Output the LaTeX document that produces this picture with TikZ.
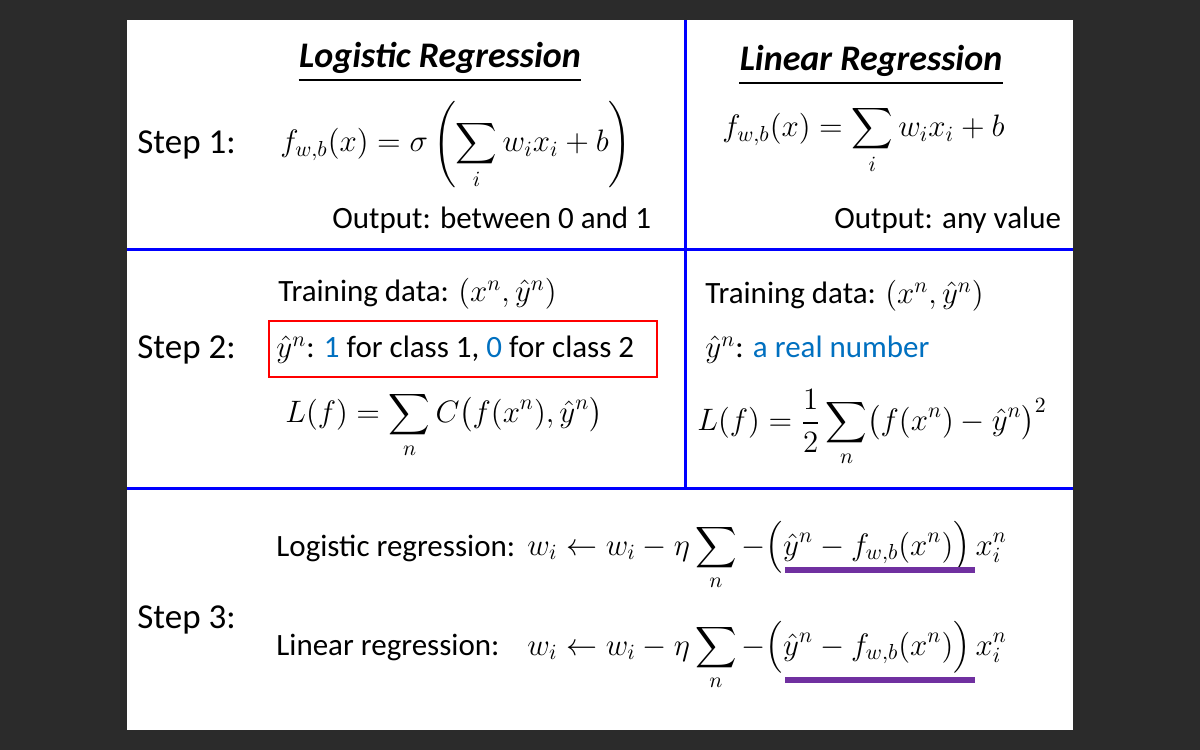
\RequirePackage{fix-cm}
\documentclass[tikz,border=0pt]{standalone}
\usepackage{fontspec}
\setmainfont{Carlito}
\usepackage{amsmath}
\begin{document}
\begin{tikzpicture}[x=0.5pt,y=-0.5pt]
\definecolor{bg}{HTML}{2B2B2B}
\definecolor{myblue}{HTML}{0000FF}
\definecolor{tblue}{HTML}{0070C0}
\definecolor{purp}{HTML}{7030A0}
\tikzset{txt/.style={inner sep=0pt,font=\fontsize{15.5}{18}\selectfont},
 mth/.style={inner sep=0pt,font=\fontsize{15.5}{19}\selectfont},
 stp/.style={inner sep=0pt,font=\fontsize{17.5}{20}\selectfont},
 ttl/.style={inner sep=0pt,font=\fontsize{18}{20}\selectfont\bfseries\itshape},
 sep/.style={myblue,line width=1.5pt}}
\fill[bg] (0,0) rectangle (1200,750);
\fill[white] (127,20) rectangle (1073,730);
\draw[sep] (127,249) -- (1073,249);
\draw[sep] (127,488) -- (1073,488);
\draw[sep] (685,20) -- (685,488);
\node[ttl] (t1) at (440,58) {Logistic Regression};
\draw[line width=1pt] ([yshift=-3pt]t1.south west) -- ([yshift=-3pt]t1.south east);
\node[ttl] (t2) at (871,61) {Linear Regression};
\draw[line width=1pt] ([yshift=-3pt]t2.south west) -- ([yshift=-3pt]t2.south east);
\node[stp,anchor=west] (s1) at (137,145) {Step 1:};
\node[mth,anchor=west] (f1) at (280,145) {$f_{w,b}(x)=\sigma\left(\displaystyle\sum_i w_ix_i+b\right)$};
\node[txt,anchor=west] (o1) at (332,220) {Output: between 0 and 1};
\node[mth,anchor=west] (f2) at (722,140) {$f_{w,b}(x)=\displaystyle\sum_i w_ix_i+b$};
\node[txt,anchor=west] (o2) at (834,220) {Output: any value};
\node[stp,anchor=west] (s2) at (137,350) {Step 2:};
\node[txt,anchor=west] (td1) at (278,294) {Training data: $(x^n,\hat y^n)$};
\node[txt,anchor=west] (yh1) at (276,350) {$\hat y^n$: \textcolor{tblue}{1} for class 1, \textcolor{tblue}{0} for class 2};
\draw[red,line width=1.2pt] (269,321) rectangle (657,377);
\node[mth,anchor=west] (l1) at (285,425) {$L(f)=\displaystyle\sum_n C\big(f(x^n),\hat y^n\big)$};
\node[txt,anchor=west] (td2) at (705,296) {Training data: $(x^n,\hat y^n)$};
\node[txt,anchor=west] (yh2) at (705,350) {$\hat y^n$: \textcolor{tblue}{a real number}};
\node[mth,anchor=west] (l2) at (697,428) {$L(f)=\dfrac12\displaystyle\sum_n\!\big(f(x^n)-\hat y^n\big)^2$};
\node[stp,anchor=west] (s3) at (137,620) {Step 3:};
\node[txt,anchor=west] (lg) at (276,548) {Logistic regression:};
\node[mth,anchor=west] (e1) at (527,555) {$w_i\leftarrow w_i-\eta\displaystyle\sum_n -\Big(\hat y^n-f_{w,b}(x^n)\Big)\,x_i^n$};
\node[txt,anchor=west] (ln) at (276,647) {Linear regression:};
\node[mth,anchor=west] (e2) at (527,655) {$w_i\leftarrow w_i-\eta\displaystyle\sum_n -\Big(\hat y^n-f_{w,b}(x^n)\Big)\,x_i^n$};
\draw[purp,line width=3pt] (785,570) -- (975,570);
\draw[purp,line width=3pt] (785,680) -- (975,680);
\end{tikzpicture}
\end{document}
